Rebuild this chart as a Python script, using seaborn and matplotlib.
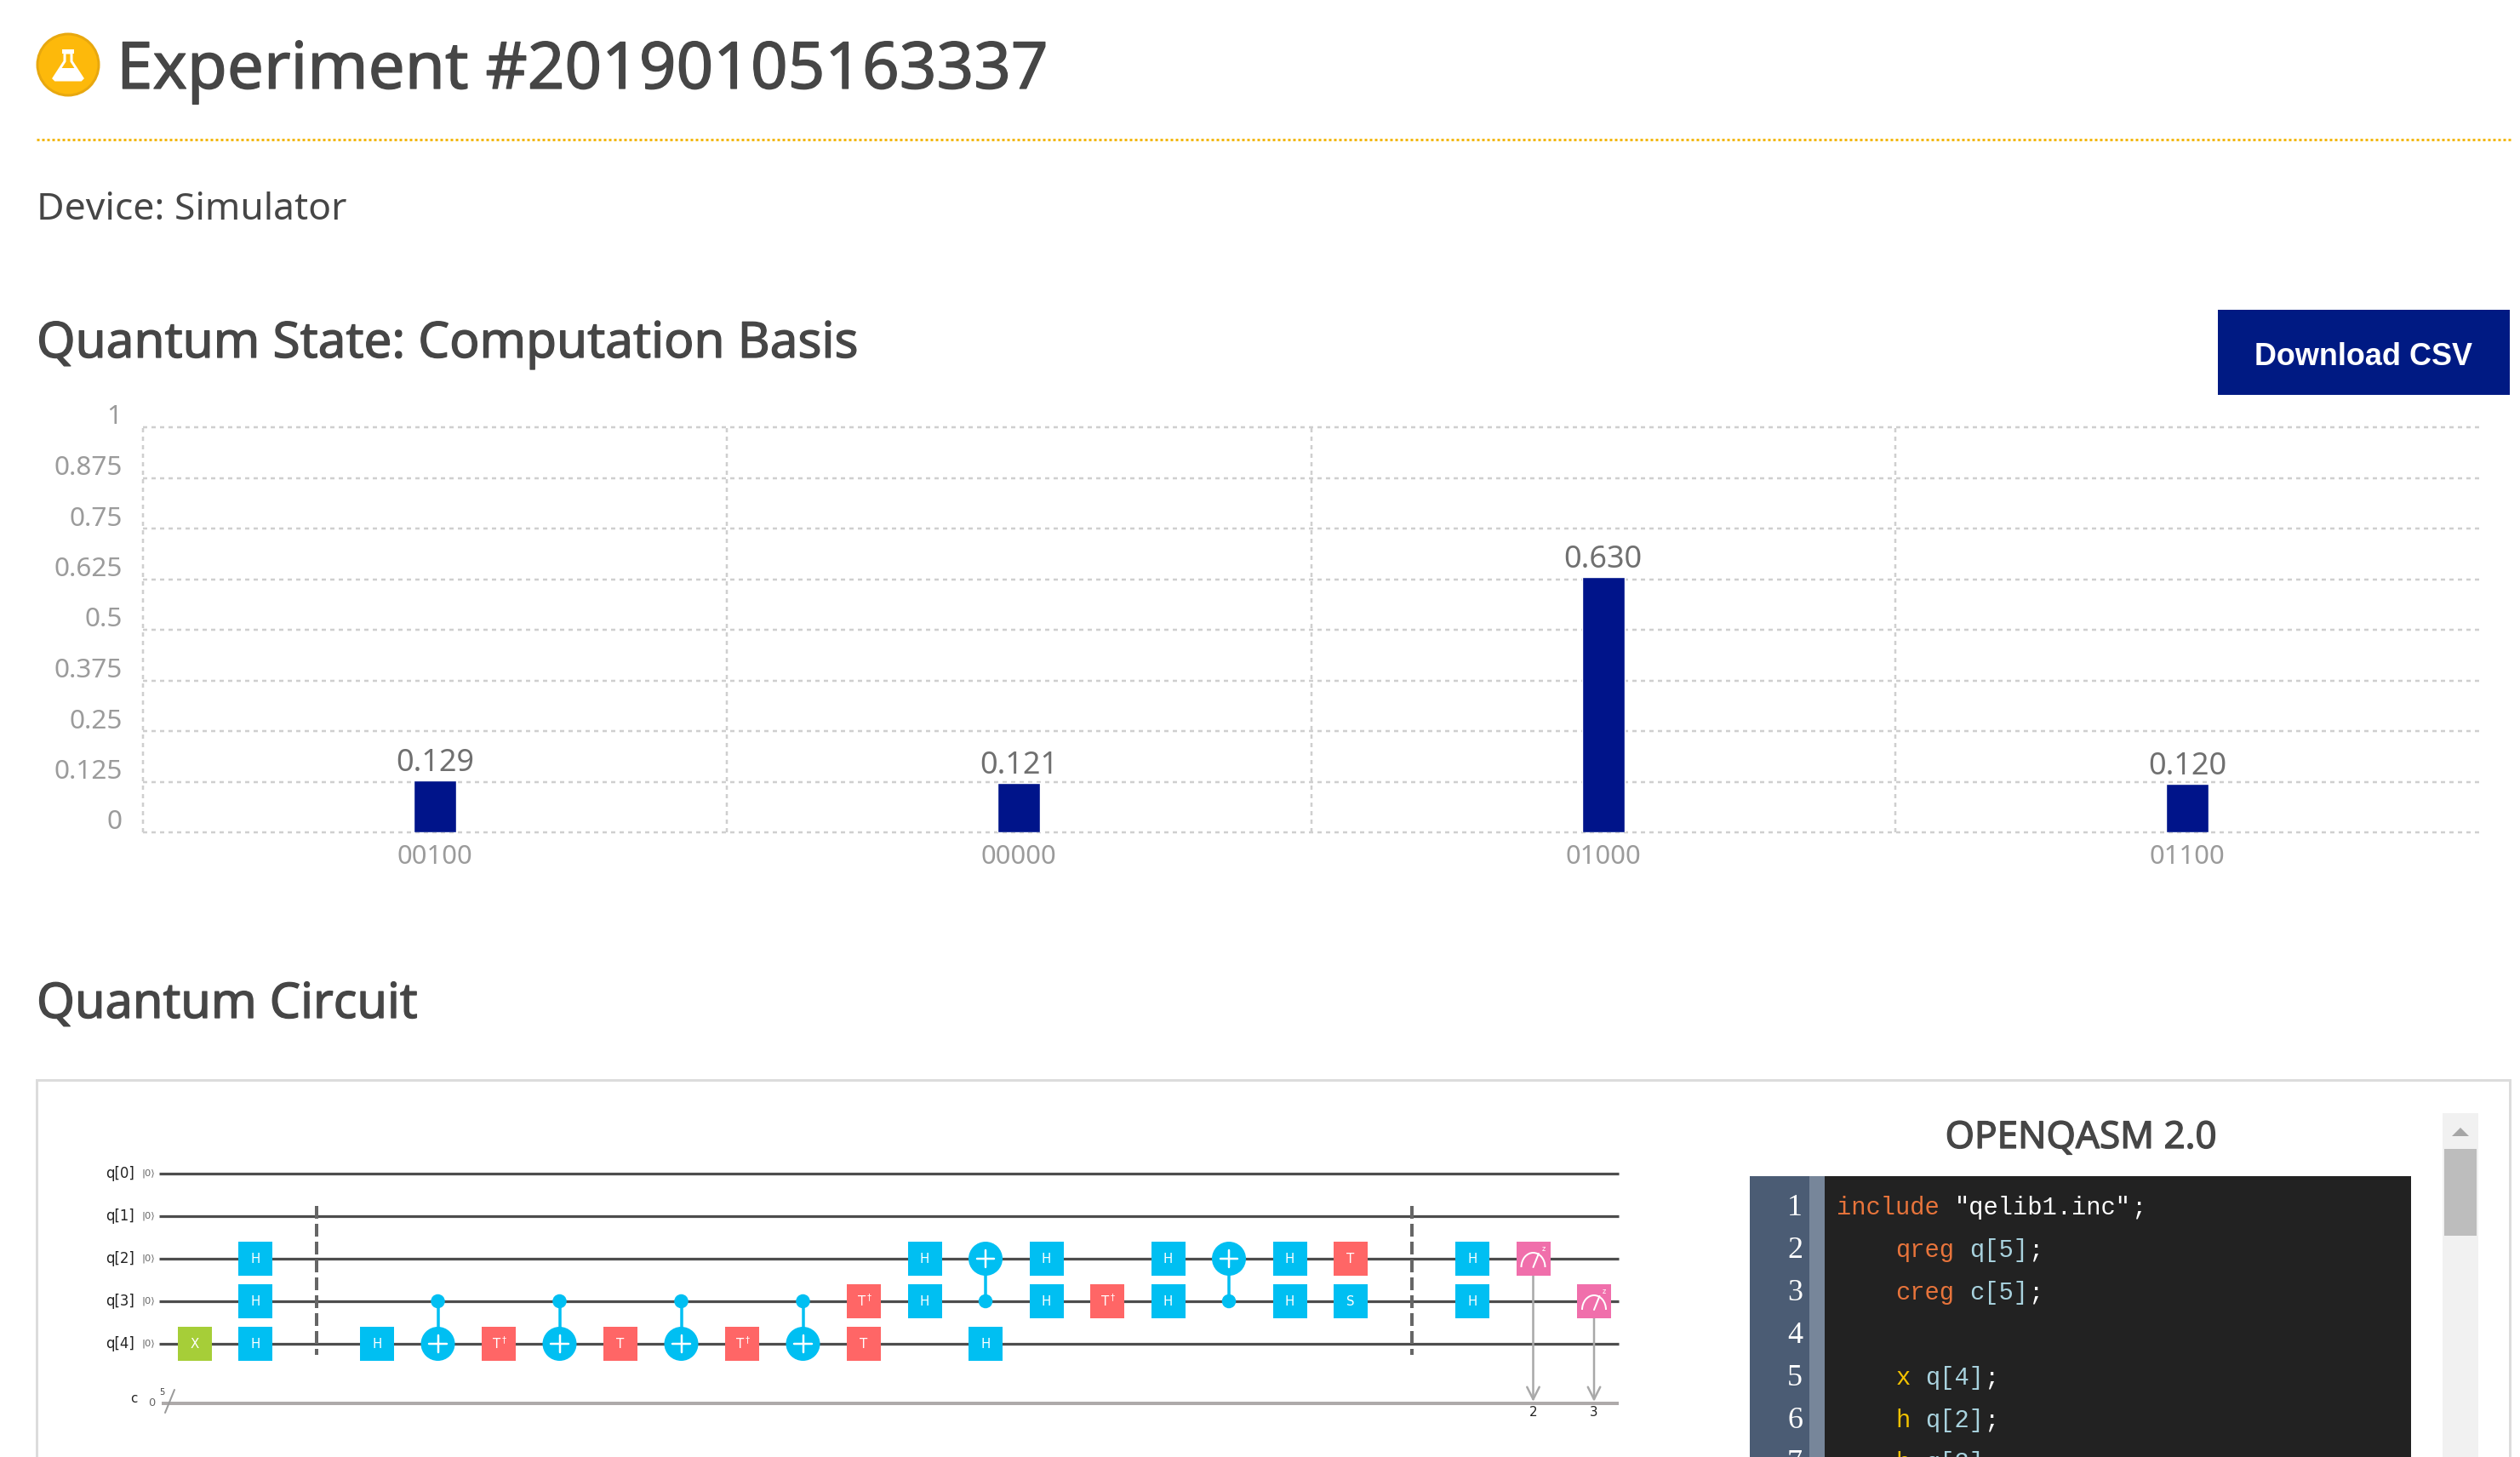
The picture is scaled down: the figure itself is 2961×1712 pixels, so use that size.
import matplotlib
matplotlib.use("Agg")
import matplotlib.pyplot as plt
import matplotlib.patches as mp
import matplotlib.patheffects as pe
from matplotlib.transforms import ScaledTranslation
import seaborn as sns

# ---------- data ----------
states = ["00100", "00000", "01000", "01100"]
probabilities = [0.129, 0.121, 0.630, 0.120]
value_labels = ["0.129", "0.121", "0.630", "0.120"]
y_ticks = [0, 0.125, 0.25, 0.375, 0.5, 0.625, 0.75, 0.875, 1]
y_tick_labels = ["0", "0.125", "0.25", "0.375", "0.5", "0.625", "0.75", "0.875", "1"]

wire_names = ["q[0]", "q[1]", "q[2]", "q[3]", "q[4]"]
x_gates = [(0, 4)]
h_gates = [(1, 2), (1, 3), (1, 4), (3, 4), (12, 2), (12, 3), (13, 4), (14, 2), (14, 3),
           (16, 2), (16, 3), (18, 2), (18, 3), (21, 2), (21, 3)]
t_gates = [(7, 4), (11, 4), (19, 2)]
tdg_gates = [(5, 4), (9, 4), (11, 3), (15, 3)]
s_gates = [(19, 3)]
cnots = [(4, 3, 4), (6, 3, 4), (8, 3, 4), (10, 3, 4), (13, 3, 2), (17, 3, 2)]
barriers = [2, 20]
measures = [(22, 2, "2"), (23, 3, "3")]
classical_wire = 5.4

code_lines = [
    [(0, 'include', 'kw'), (8, '"qelib1.inc"', 'plain'), (20, ';', 'plain')],
    [(4, 'qreg', 'kw'), (9, 'q[5]', 'reg'), (13, ';', 'plain')],
    [(4, 'creg', 'kw'), (9, 'c[5]', 'reg'), (13, ';', 'plain')],
    [],
    [(4, 'x', 'gate'), (6, 'q[4]', 'reg'), (10, ';', 'plain')],
    [(4, 'h', 'gate'), (6, 'q[2]', 'reg'), (10, ';', 'plain')],
    [(4, 'h', 'gate'), (6, 'q[3]', 'reg'), (10, ';', 'plain')],
]
code_colors = {'kw': '#e8743b', 'reg': '#a9d3df', 'gate': '#f2c200', 'plain': '#ffffff'}

# ---------- setup ----------
sns.set_style("white")
plt.rcParams['font.family'] = ['Noto Sans', 'DejaVu Sans']
W, H, DPI = 2961, 1712, 100
PT = 72 / DPI
fig = plt.figure(figsize=(W / DPI, H / DPI), dpi=DPI, facecolor='white')


def box(l, t, r, b):
    return [l / W, 1 - b / H, (r - l) / W, (b - t) / H]


page = fig.add_axes([0, 0, 1, 1], zorder=0)
page.set_xlim(0, W)
page.set_ylim(H, 0)
page.axis('off')

# ---------- header ----------
INK = '#464646'
medium = [pe.withStroke(linewidth=1.3 * PT, foreground=INK)]
page.add_patch(mp.Circle((80, 76), 36, fc='#fdb90b', ec='#e8a80f', lw=3 * PT))
page.add_patch(mp.Polygon([(76, 62), (84, 62), (84, 72), (97, 92), (95, 94), (65, 94), (63, 92), (76, 72)],
                          closed=True, fc='none', ec='white', lw=3 * PT))
page.add_patch(mp.Polygon([(72, 80), (88, 80), (97, 92), (95, 94), (65, 94), (63, 92)], closed=True, fc='white', ec='none'))
page.add_patch(mp.Rectangle((73, 58), 14, 5, fc='white', ec='none'))
page.text(137, 104, "Experiment #20190105163337", fontsize=76.4 * PT, color=INK, va='baseline', path_effects=medium)
page.plot([43, 2950], [164, 164], color='#f3b70f', lw=3 * PT, ls=(0, (1, 1)))
page.text(43, 258, "Device: Simulator", fontsize=44.5 * PT, color=INK, va='baseline')
page.text(43, 420, "Quantum State: Computation Basis", fontsize=58.4 * PT, color=INK, va='baseline', path_effects=medium)
page.add_patch(mp.Rectangle((2606, 364), 343, 100, fc='#001a83', ec='none'))
page.text(2777, 419, "Download CSV", family='Liberation Sans', fontsize=36 * PT, color='white', weight='bold', ha='center', va='center')
page.text(43, 1196, "Quantum Circuit", fontsize=57.6 * PT, color=INK, va='baseline', path_effects=medium)

# ---------- bar chart ----------
ax = fig.add_axes(box(168, 502, 2913, 978), zorder=1)
ax.patch.set_alpha(0)
sns.barplot(x=states, y=probabilities, color='#00148a', saturation=1, width=0.073, ax=ax)
ax.set_xlim(-0.5, 3.5)
ax.set_ylim(0, 1)
ax.set_yticks(y_ticks, y_tick_labels)
ax.set_xticks([-0.5, 0.5, 1.5, 2.5], minor=True)
ax.set_axisbelow(True)
grid_kw = dict(color='#cfcfcf', lw=2.5 * PT, ls=(0, (2, 2)), clip_on=False)
ax.grid(axis='y', which='major', **grid_kw)
ax.grid(axis='x', which='minor', **grid_kw)
ax.grid(axis='x', which='major', visible=False)
sns.despine(ax=ax, left=True, bottom=True, top=True, right=True)
ax.tick_params(axis='both', which='both', length=0)
ax.tick_params(axis='y', labelsize=31.5 * PT, labelcolor='#9b9b9b', pad=24.5 * PT)
ax.tick_params(axis='x', labelsize=31 * PT, labelcolor='#9b9b9b', pad=14 * PT)
shift = ScaledTranslation(0, 15 / DPI, fig.dpi_scale_trans)
for lab in ax.get_yticklabels():
    lab.set_transform(lab.get_transform() + shift)
ax.bar_label(ax.containers[0], labels=value_labels, padding=2 * PT, fontsize=36 * PT, color='#707070')

# ---------- circuit card ----------
page.add_patch(mp.Rectangle((43, 1269), 2906, 600, fc='white', ec='#dcdcdc', lw=3 * PT))

COLX, COLW, ROWY, ROWH = 228.5, 71.5, 1379, 50
CL, CT, CR, CB = 90, 1360, 1950, 1690
cx = fig.add_axes(box(CL, CT, CR, CB), zorder=2)
cx.patch.set_alpha(0)
cx.set_xlim((CL - COLX) / COLW, (CR - COLX) / COLW)
cx.set_ylim((CB - ROWY) / ROWH, (CT - ROWY) / ROWH)
cx.axis('off')
GW, GH = 40 / COLW, 40 / ROWH
x0 = (187 - COLX) / COLW
x1 = (1902 - COLX) / COLW
cyan, red, green, pink = '#00bff2', '#ff6666', '#a6ce38', '#f06fab'

for w, name in enumerate(wire_names):
    cx.plot([x0, x1], [w, w], color='#4d4d4d', lw=3.2 * PT, zorder=1, solid_capstyle='butt')
    cx.text((158 - COLX) / COLW, w, name, family='DejaVu Sans', fontsize=16.5 * PT, ha='right', va='center', color='#222222')
    cx.text((174 - COLX) / COLW, w, "|0⟩", family='DejaVu Sans', fontsize=11.5 * PT, ha='center', va='center', color='#666666')
cx.plot([(190 - COLX) / COLW, x1], [classical_wire] * 2, color='#aeaaaa', lw=4 * PT, zorder=1, solid_capstyle='butt')
cx.plot([(194 - COLX) / COLW, (205 - COLX) / COLW], [classical_wire + 0.22, classical_wire - 0.32], color='#9a9a9a', lw=2 * PT, zorder=2)
cx.text((157 - COLX) / COLW, classical_wire - 0.1, "c", family='DejaVu Sans', fontsize=15 * PT, ha='center', va='center', color='#222222')
cx.text((178 - COLX) / COLW, classical_wire, "0", family='DejaVu Sans', fontsize=13 * PT, ha='center', va='center', color='#666666')
cx.text((190 - COLX) / COLW, classical_wire - 0.26, "5", family='DejaVu Sans', fontsize=10 * PT, ha='center', va='center', color='#444444')


def gate(col, wire, color, label, dx=0.0):
    cx.add_patch(mp.Rectangle((col - GW / 2, wire - GH / 2), GW, GH, fc=color, ec='none', zorder=3))
    if label:
        cx.text(col + dx, wire, label, family='DejaVu Sans', fontsize=15 * PT, color='white', ha='center', va='center', zorder=4)


for col, w in x_gates:
    gate(col, w, green, "X")
for col, w in h_gates:
    gate(col, w, cyan, "H")
for col, w in t_gates:
    gate(col, w, red, "T")
for col, w in tdg_gates:
    gate(col, w, red, "T", dx=-0.04)
    cx.text(col + 0.09, w - 0.1, "†", family='DejaVu Sans', fontsize=10 * PT, color='white', ha='center', va='center', zorder=4)
for col, w in s_gates:
    gate(col, w, cyan, "S")

for col, ctrl, tgt in cnots:
    cx.plot([col, col], [ctrl, tgt], color=cyan, lw=3.5 * PT, zorder=3)
    cx.add_patch(mp.Ellipse((col, ctrl), 16.5 / COLW, 16.5 / ROWH, fc=cyan, ec='none', zorder=3))
    cx.add_patch(mp.Ellipse((col, tgt), GW, GH, fc=cyan, ec='none', zorder=3))
    cx.plot([col - 0.14, col + 0.14], [tgt, tgt], color='white', lw=2.5 * PT, zorder=4)
    cx.plot([col, col], [tgt - 0.2, tgt + 0.2], color='white', lw=2.5 * PT, zorder=4)

for col in barriers:
    cx.plot([col, col], [(1417 - ROWY) / ROWH, (1592 - ROWY) / ROWH], color='#666666', lw=4 * PT,
            ls=(0, (3.75, 1.5)), zorder=2)

for col, w, bit in measures:
    cx.annotate('', xy=(col, classical_wire - 0.04), xytext=(col, w), zorder=2,
                arrowprops=dict(arrowstyle='->', color='#a8a8a8', lw=2.5 * PT, shrinkA=0, shrinkB=0, mutation_scale=26))
    gate(col, w, pink, None)
    cx.add_patch(mp.Arc((col, w + 0.2), 28 / COLW, 34 / ROWH, theta1=180, theta2=360, color='white', lw=2 * PT, zorder=4))
    cx.plot([col, col + 0.09], [w + 0.2, w - 0.12], color='white', lw=2 * PT, zorder=4)
    cx.text(col + 0.17, w - 0.22, "z", family='DejaVu Sans', fontsize=8 * PT, color='white', ha='center', va='center', zorder=4)
    cx.text(col, classical_wire + 0.2, bit, family='DejaVu Sans', fontsize=15 * PT, color='#222222', ha='center', va='center')

# ---------- code panel ----------
page.text(2445, 1338, "OPENQASM 2.0", fontsize=44 * PT, color=INK, ha='center', va='center', path_effects=medium)
page.add_patch(mp.Rectangle((2056, 1382), 70, 340, fc='#4b5c74', ec='none'))
page.add_patch(mp.Rectangle((2126, 1382), 18, 340, fc='#77869a', ec='none'))
page.add_patch(mp.Rectangle((2144, 1382), 689, 340, fc='#222222', ec='none'))
page.add_patch(mp.Rectangle((2870, 1308), 42, 420, fc='#f1f1f1', ec='none'))
page.add_patch(mp.Rectangle((2872, 1350), 38, 102, fc='#bdbdbd', ec='none'))
page.add_patch(mp.Polygon([(2881, 1335), (2901, 1335), (2891, 1325)], closed=True, fc='#a6a6a6', ec='none'))
for i, tokens in enumerate(code_lines):
    yy = 1419 + 50 * i
    page.text(2118, yy, str(i + 1), family='Liberation Serif', fontsize=36 * PT, color='white', ha='right', va='center')
    for col, s, role in tokens:
        page.text(2158 + 17.3 * col, yy, s, family='Liberation Mono', fontsize=28.8 * PT,
                  color=code_colors[role], ha='left', va='center')

fig.savefig('out.png', dpi=DPI, facecolor='white')
